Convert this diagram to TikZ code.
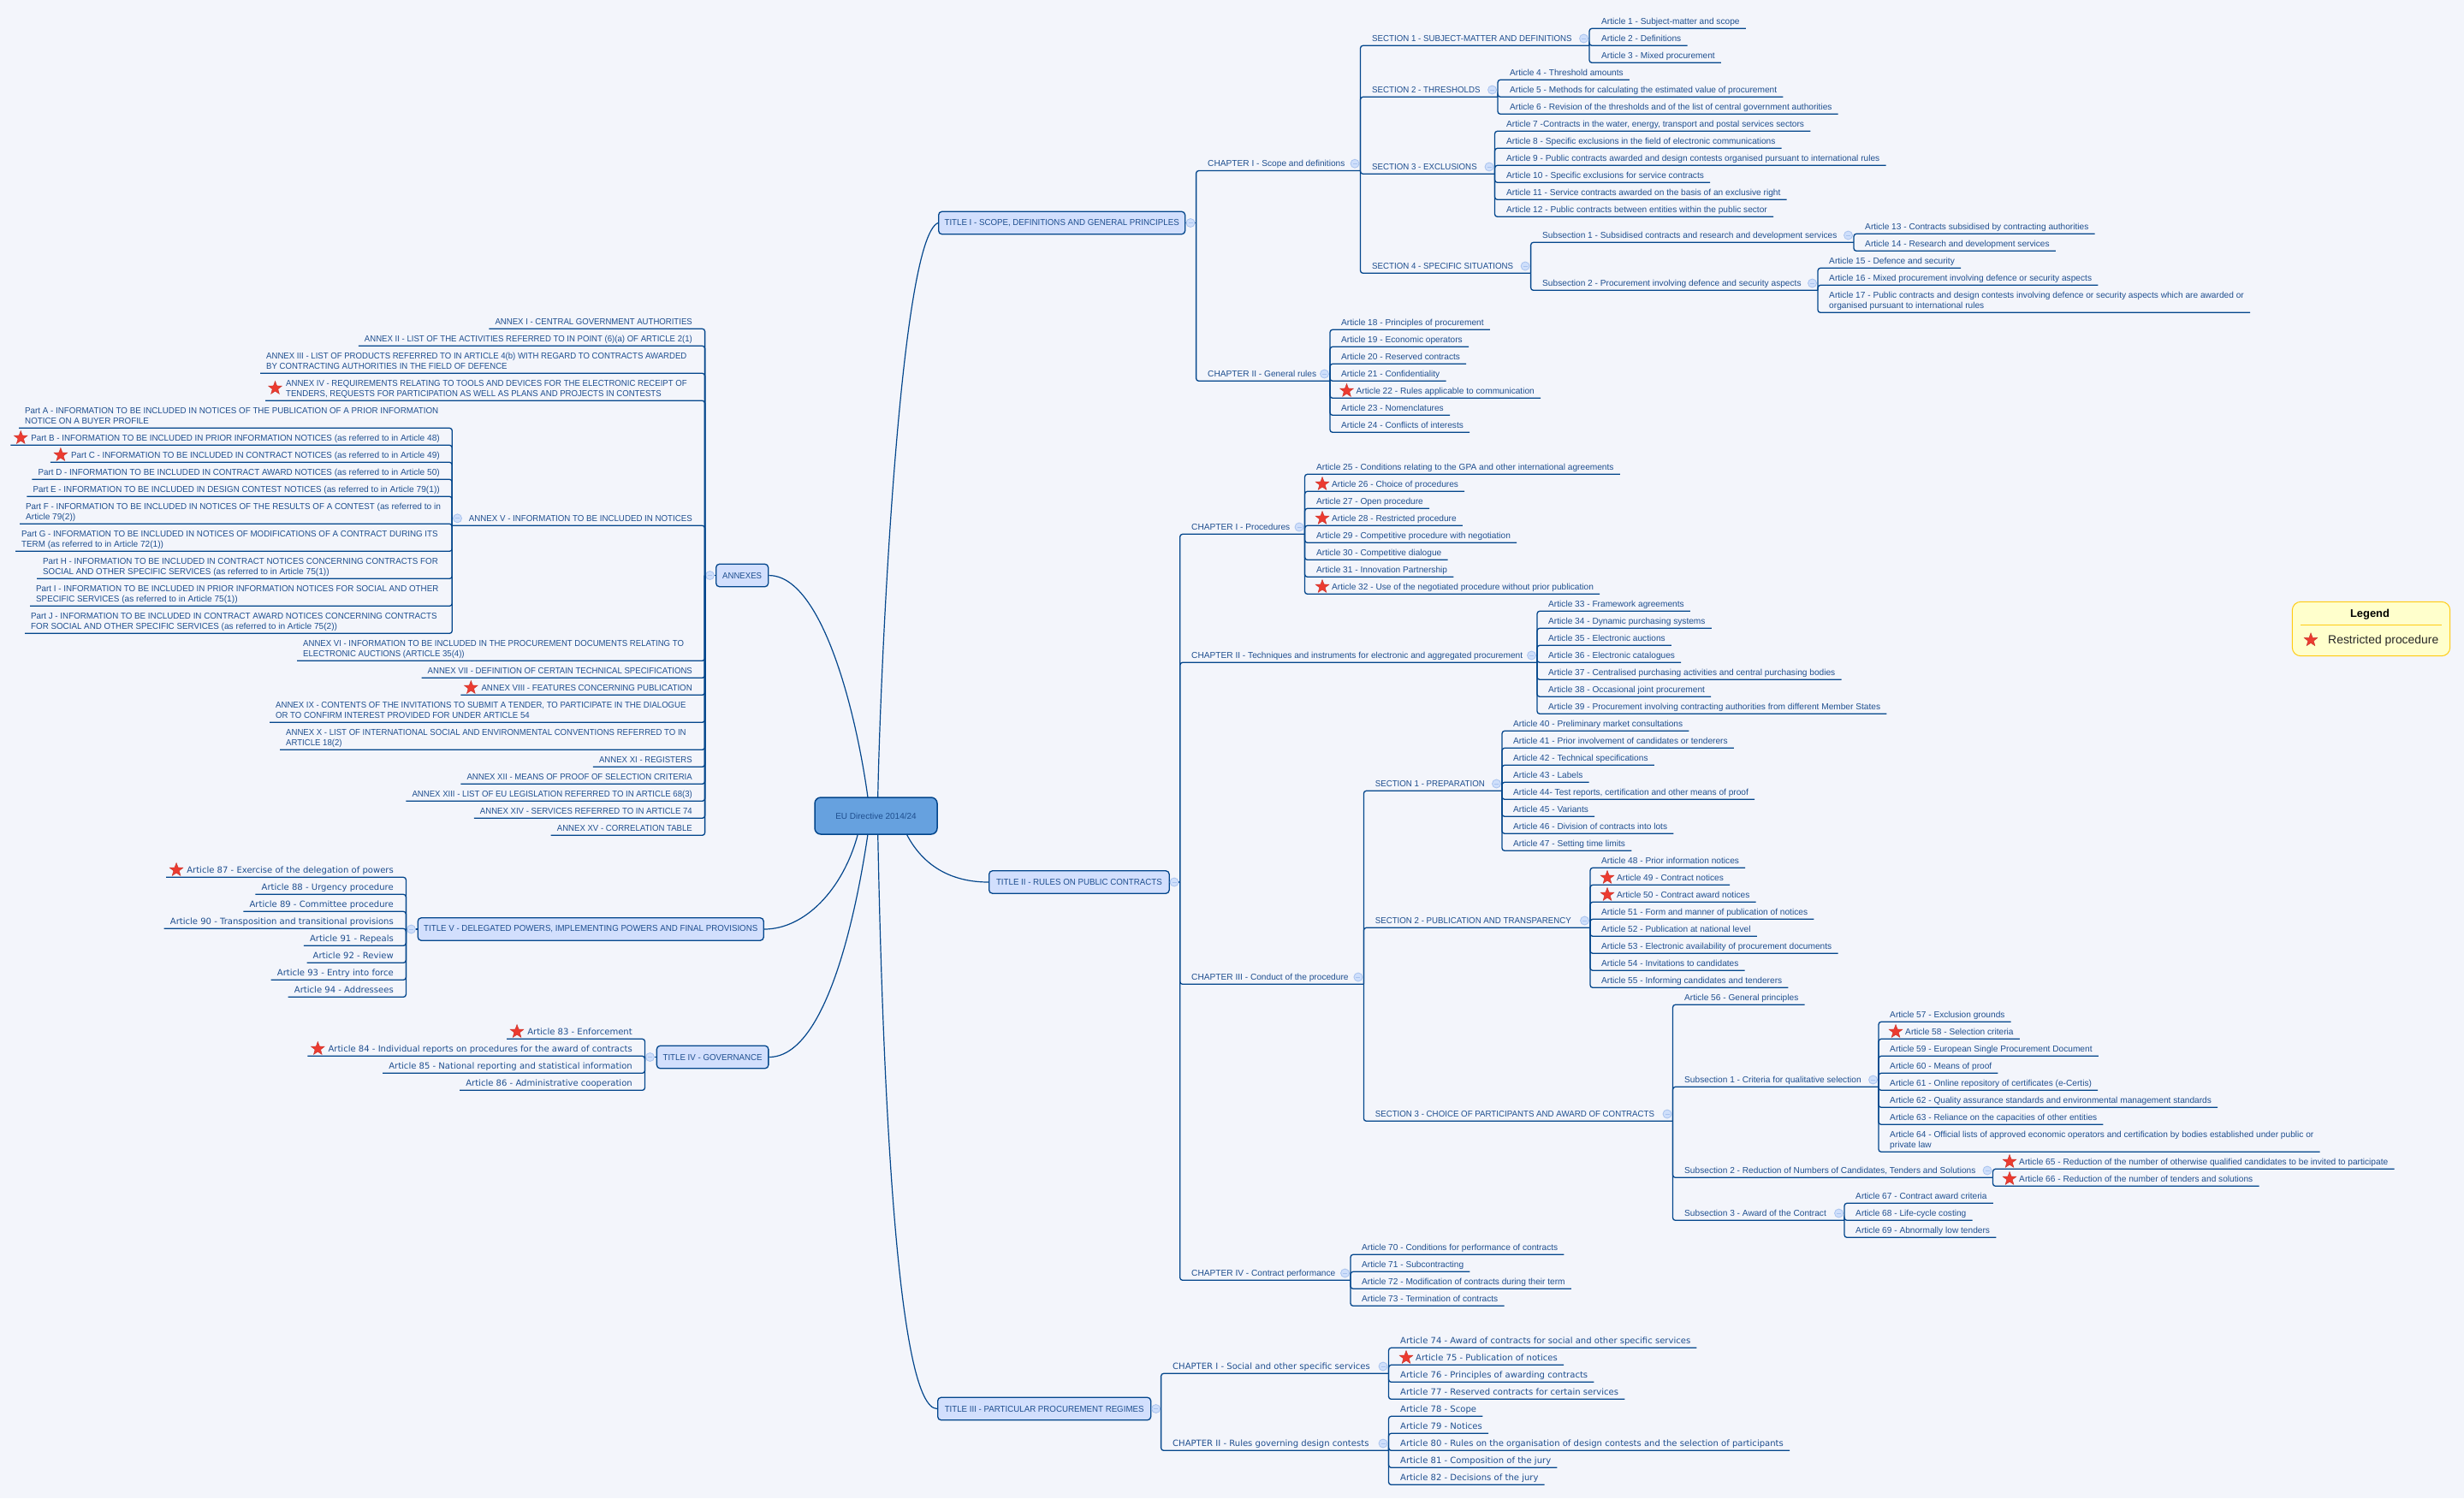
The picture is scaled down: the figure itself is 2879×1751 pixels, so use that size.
\documentclass[tikz,border=0pt]{standalone}
\usepackage{fontspec}
\setmainfont{Liberation Sans}
\newfontfamily\altf{DejaVu Sans}
\newfontfamily\capfam[FakeStretch=0.945]{Liberation Sans}
\newfontfamily\capsec[FakeStretch=0.957]{Liberation Sans}
\newfontfamily\cappart[FakeStretch=0.965]{Liberation Sans}
\usetikzlibrary{shapes.geometric}
\definecolor{bgc}{HTML}{F3F5FB}
\definecolor{linec}{HTML}{03468C}
\definecolor{txtc}{HTML}{1F4F8F}
\definecolor{boxc}{HTML}{D2DFFD}
\definecolor{rootc}{HTML}{66A1DF}
\definecolor{foldf}{HTML}{CFDFFB}
\definecolor{foldd}{HTML}{A9C3EE}
\definecolor{starc}{HTML}{EC3B30}
\definecolor{stard}{HTML}{C8322A}
\definecolor{legd}{HTML}{FFCC14}
\definecolor{legf}{HTML}{FFFFCC}
\newcommand{\C}[1]{{\capfam #1}}
\newcommand{\CS}[1]{{\capsec #1}}
\newcommand{\CP}[1]{{\cappart #1}}
\newcommand{\mainf}{\fontsize{10.15}{12}\selectfont}
\newcommand{\bigf}{\altf\fontsize{10.05}{12}\selectfont}
\tikzset{
 base/.style={inner ysep=0pt,inner xsep=7pt,text depth=5pt,text=txtc,font=\mainf},
 rleafn/.style={base,anchor=south west},
 lleafe/.style={base,anchor=south east},
 lleafw/.style={base,anchor=south west},
 conn/.style={draw=linec,line width=1.3pt,rounded corners=3pt},
 curve/.style={draw=linec,line width=1.2pt},
 foldn/.style={circle,minimum size=10pt,inner sep=0pt,draw=foldd,fill=foldf,line width=.8pt},
 starn/.style={star,star points=5,star point ratio=2.4,minimum size=16.5pt,inner sep=0pt,fill=starc,draw=stard,line width=.4pt},
 titlen/.style={draw=linec,fill=boxc,line width=1.3pt,rounded corners=4pt,minimum height=26.5pt,inner sep=0pt,text=txtc,font=\mainf,anchor=west},
}
\newcommand{\two}[2]{\vbox{\baselineskip=12pt\lineskiplimit=-10pt\hbox{#1}\hbox{#2}}}
\newcommand{\foldm}{\textcolor{foldd}{\rule[-.4pt]{5pt}{.8pt}}}
% right side
\newcommand{\rleaf}[6][]{\node[rleafn,#1] (#2) at (#4-7,#5) {#6}; \draw[conn] (#3) |- (#2.south east);}
\newcommand{\rleafs}[6][]{\rleaf[#1]{#2}{#3}{#4}{#5}{#6}\node[starn] (#2-s) at (#4-11,#5-8.6) {};}
\newcommand{\rpar}[6]{\node[rleafn] (#1) at (#3-7,#4) {#6}; \coordinate (#1-j) at (#5,#4); \draw[conn] (#2) |- (#1-j); \node[foldn] (#1-f) at (#5-6.5,#4-8.3) {\foldm};}
% left side
\newcommand{\lleaf}[6][]{\node[lleafe,#1] (#2) at (#4+7,#5) {#6}; \draw[conn] (#3) |- (#2.south west);}
\newcommand{\lleafs}[6][]{\node[lleafe,#1] (#2) at (#4+7,#5) {\hspace*{17pt}#6}; \draw[conn] (#3) |- (#2.south west); \node[starn] (#2-s) at ([shift={(12,-8.6)}]#2.south west) {};}
\newcommand{\lleafw}[5]{\node[lleafw] (#1) at (#3-7,#4) {#5}; \draw[conn] (#2) |- (#1.south west);}
\begin{document}
\begin{tikzpicture}[x=1pt,y=-1pt]
\path[use as bounding box,fill=bgc] (0,0) rectangle (2879,1751);
% root and main boxes
\node[draw=linec,fill=rootc,line width=1.5pt,rounded corners=7pt,minimum width=143pt,minimum height=43pt,inner sep=0pt,text=txtc,font=\fontsize{10}{12}\selectfont] (root) at (1023.5,953.5) {EU Directive 2014/24};
\node[titlen,minimum width=288pt] (t1) at (1096,260.5) {\CS{TITLE I - SCOPE, DEFINITIONS AND GENERAL PRINCIPLES}};
\node[titlen,minimum width=210.5pt] (t2) at (1155,1031) {\CS{TITLE II - RULES ON PUBLIC CONTRACTS}};
\node[titlen,minimum width=249pt] (t3) at (1095,1646.5) {\CS{TITLE III - PARTICULAR PROCUREMENT REGIMES}};
\node[titlen,minimum width=130.5pt] (t4) at (766.7,1235.5) {\CS{TITLE IV - GOVERNANCE}};
\node[titlen,minimum width=404pt] (t5) at (487.6,1086) {\CS{TITLE V - DELEGATED POWERS, IMPLEMENTING POWERS AND FINAL PROVISIONS}};
\node[titlen,minimum width=61pt] (ann) at (836,672.5) {\C{ANNEXES}};
% curves
\draw[curve] (1025.7,932) .. controls (1028,800) and (1050,280) .. (t1.west);
\draw[curve] (1014,932) .. controls (1000,830) and (960,672.5) .. (ann.east);
\draw[curve] (1002.3,975) .. controls (985,1040) and (940,1086) .. (t5.east);
\draw[curve] (1014,975) .. controls (1000,1070) and (965,1235.5) .. (t4.east);
\draw[curve] (1059.3,975) .. controls (1080,1015) and (1115,1031) .. (t2.west);
\draw[curve] (1025.7,975) .. controls (1032,1300) and (1050,1646.5) .. (t3.west);
% junctions of the titles
\coordinate (t1-j) at (1397.6,260.5); \draw[conn] (t1.east) -- (t1-j); \node[foldn] (t1-f) at (1391,260.5) {\foldm};
\coordinate (t2-j) at (1378.7,1031); \draw[conn] (t2.east) -- (t2-j); \node[foldn] (t2-f) at (1372,1031) {\foldm};
\coordinate (t3-j) at (1356.6,1646.5); \draw[conn] (t3.east) -- (t3-j); \node[foldn] (t3-f) at (1350.6,1646.5) {\foldm};
\coordinate (t4-j) at (753.5,1235.5); \draw[conn] (t4.west) -- (t4-j); \node[foldn] (t4-f) at (759.5,1235.5) {\foldm};
\coordinate (t5-j) at (474.4,1086); \draw[conn] (t5.west) -- (t5-j); \node[foldn] (t5-f) at (480.5,1086) {\foldm};
\coordinate (ann-j) at (823.6,672.5); \draw[conn] (ann.west) -- (ann-j); \node[foldn] (ann-f) at (829.5,672.5) {\foldm};
% ---------- TITLE I
\rpar{c11}{t1-j}{1411}{199.5}{1589.5}{CHAPTER I - Scope and definitions}
\rpar{s1}{c11-j}{1603}{53.3}{1857}{\CS{SECTION 1 - SUBJECT-MATTER AND DEFINITIONS}}
\rleaf{a1}{s1-j}{1871}{33.3}{Article 1 - Subject-matter and scope}
\rleaf{a2}{s1-j}{1871}{53.3}{Article 2 - Definitions}
\rleaf{a3}{s1-j}{1871}{73.3}{Article 3 - Mixed procurement}
\rpar{s2}{c11-j}{1603}{113.3}{1750}{\CS{SECTION 2 - THRESHOLDS}}
\rleaf{a4}{s2-j}{1764}{93.3}{Article 4 - Threshold amounts}
\rleaf{a5}{s2-j}{1764}{113.3}{Article 5 - Methods for calculating the estimated value of procurement}
\rleaf{a6}{s2-j}{1764}{133.3}{Article 6 - Revision of the thresholds and of the list of central government authorities}
\rpar{s3}{c11-j}{1603}{203.3}{1746.5}{\CS{SECTION 3 - EXCLUSIONS}}
\rleaf{a7}{s3-j}{1760}{153.3}{Article 7 -Contracts in the water, energy, transport and postal services sectors}
\rleaf{a8}{s3-j}{1760}{173.3}{Article 8 - Specific exclusions in the field of electronic communications}
\rleaf{a9}{s3-j}{1760}{193.3}{Article 9 - Public contracts awarded and design contests organised pursuant to international rules}
\rleaf{a10}{s3-j}{1760}{213.3}{Article 10 - Specific exclusions for service contracts}
\rleaf{a11}{s3-j}{1760}{233.3}{Article 11 - Service contracts awarded on the basis of an exclusive right}
\rleaf{a12}{s3-j}{1760}{253.3}{Article 12 - Public contracts between entities within the public sector}
\rpar{s4}{c11-j}{1603}{319.3}{1788.6}{\CS{SECTION 4 - SPECIFIC SITUATIONS}}
\rpar{ss1}{s4-j}{1802}{283.3}{2166}{Subsection 1 - Subsidised contracts and research and development services}
\rleaf{a13}{ss1-j}{2179}{273.3}{Article 13 - Contracts subsidised by contracting authorities}
\rleaf{a14}{ss1-j}{2179}{293.3}{Article 14 - Research and development services}
\rpar{ss2}{s4-j}{1802}{339.3}{2124}{Subsection 2 - Procurement involving defence and security aspects}
\rleaf{a15}{ss2-j}{2137}{313.3}{Article 15 - Defence and security}
\rleaf{a16}{ss2-j}{2137}{333.3}{Article 16 - Mixed procurement involving defence or security aspects}
\rleaf{a17}{ss2-j}{2137}{365.3}{\two{Article 17 - Public contracts and design contests involving defence or security aspects which are awarded or}{organised pursuant to international rules}}
\rpar{c12}{t1-j}{1411}{445.3}{1554}{CHAPTER II - General rules}
\rleaf{a18}{c12-j}{1567}{385.3}{Article 18 - Principles of procurement}
\rleaf{a19}{c12-j}{1567}{405.3}{Article 19 - Economic operators}
\rleaf{a20}{c12-j}{1567}{425.3}{Article 20 - Reserved contracts}
\rleaf{a21}{c12-j}{1567}{445.3}{Article 21 - Confidentiality}
\rleafs{a22}{c12-j}{1584.5}{465.3}{Article 22 - Rules applicable to communication}
\rleaf{a23}{c12-j}{1567}{485.3}{Article 23 - Nomenclatures}
\rleaf{a24}{c12-j}{1567}{505.3}{Article 24 - Conflicts of interests}
% ---------- TITLE II
\rpar{c21}{t2-j}{1392}{624.3}{1524.5}{CHAPTER I - Procedures}
\rleaf{a25}{c21-j}{1538}{554.3}{Article 25 - Conditions relating to the GPA and other international agreements}
\rleafs{a26}{c21-j}{1556}{574.3}{Article 26 - Choice of procedures}
\rleaf{a27}{c21-j}{1538}{594.3}{Article 27 - Open procedure}
\rleafs{a28}{c21-j}{1556}{614.3}{Article 28 - Restricted procedure}
\rleaf{a29}{c21-j}{1538}{634.3}{Article 29 - Competitive procedure with negotiation}
\rleaf{a30}{c21-j}{1538}{654.3}{Article 30 - Competitive dialogue}
\rleaf{a31}{c21-j}{1538}{674.3}{Article 31 - Innovation Partnership}
\rleafs{a32}{c21-j}{1556}{694.3}{Article 32 - Use of the negotiated procedure without prior publication}
\rpar{c22}{t2-j}{1392}{774.3}{1796}{CHAPTER II - Techniques and instruments for electronic and aggregated procurement}
\rleaf{a33}{c22-j}{1809}{714.3}{Article 33 - Framework agreements}
\rleaf{a34}{c22-j}{1809}{734.3}{Article 34 - Dynamic purchasing systems}
\rleaf{a35}{c22-j}{1809}{754.3}{Article 35 - Electronic auctions}
\rleaf{a36}{c22-j}{1809}{774.3}{Article 36 - Electronic catalogues}
\rleaf{a37}{c22-j}{1809}{794.3}{Article 37 - Centralised purchasing activities and central purchasing bodies}
\rleaf{a38}{c22-j}{1809}{814.3}{Article 38 - Occasional joint procurement}
\rleaf{a39}{c22-j}{1809}{834.3}{Article 39 - Procurement involving contracting authorities from different Member States}
\rpar{c23}{t2-j}{1392}{1150.3}{1593.4}{CHAPTER III - Conduct of the procedure}
\rpar{s31}{c23-j}{1606.6}{924.3}{1755}{\CS{SECTION 1 - PREPARATION}}
\rleaf{a40}{s31-j}{1768}{854.3}{Article 40 - Preliminary market consultations}
\rleaf{a41}{s31-j}{1768}{874.3}{Article 41 - Prior involvement of candidates or tenderers}
\rleaf{a42}{s31-j}{1768}{894.3}{Article 42 - Technical specifications}
\rleaf{a43}{s31-j}{1768}{914.3}{Article 43 - Labels}
\rleaf{a44}{s31-j}{1768}{934.3}{Article 44- Test reports, certification and other means of proof}
\rleaf{a45}{s31-j}{1768}{954.3}{Article 45 - Variants}
\rleaf{a46}{s31-j}{1768}{974.3}{Article 46 - Division of contracts into lots}
\rleaf{a47}{s31-j}{1768}{994.3}{Article 47 - Setting time limits}
\rpar{s32}{c23-j}{1606.6}{1084.3}{1858}{\CS{SECTION 2 - PUBLICATION AND TRANSPARENCY}}
\rleaf{a48}{s32-j}{1871}{1014.3}{Article 48 - Prior information notices}
\rleafs{a49}{s32-j}{1889}{1034.3}{Article 49 - Contract notices}
\rleafs{a50}{s32-j}{1889}{1054.3}{Article 50 - Contract award notices}
\rleaf{a51}{s32-j}{1871}{1074.3}{Article 51 - Form and manner of publication of notices}
\rleaf{a52}{s32-j}{1871}{1094.3}{Article 52 - Publication at national level}
\rleaf{a53}{s32-j}{1871}{1114.3}{Article 53 - Electronic availability of procurement documents}
\rleaf{a54}{s32-j}{1871}{1134.3}{Article 54 - Invitations to candidates}
\rleaf{a55}{s32-j}{1871}{1154.3}{Article 55 - Informing candidates and tenderers}
\rpar{s33}{c23-j}{1606.6}{1310.3}{1954.5}{\CS{SECTION 3 - CHOICE OF PARTICIPANTS AND AWARD OF CONTRACTS}}
\rleaf{a56}{s33-j}{1968}{1174.3}{Article 56 - General principles}
\rpar{q1}{s33-j}{1968}{1270.3}{2195}{Subsection 1 - Criteria for qualitative selection}
\rleaf{a57}{q1-j}{2208}{1194.3}{Article 57 - Exclusion grounds}
\rleafs{a58}{q1-j}{2226}{1214.3}{Article 58 - Selection criteria}
\rleaf{a59}{q1-j}{2208}{1234.3}{Article 59 - European Single Procurement Document}
\rleaf{a60}{q1-j}{2208}{1254.3}{Article 60 - Means of proof}
\rleaf{a61}{q1-j}{2208}{1274.3}{Article 61 - Online repository of certificates (e-Certis)}
\rleaf{a62}{q1-j}{2208}{1294.3}{Article 62 - Quality assurance standards and environmental management standards}
\rleaf{a63}{q1-j}{2208}{1314.3}{Article 63 - Reliance on the capacities of other entities}
\rleaf{a64}{q1-j}{2208}{1346.3}{\two{Article 64 - Official lists of approved economic operators and certification by bodies established under public or}{private law}}
\rpar{q2}{s33-j}{1968}{1376.3}{2328.5}{Subsection 2 - Reduction of Numbers of Candidates, Tenders and Solutions}
\rleafs{a65}{q2-j}{2359}{1366.3}{Article 65 - Reduction of the number of otherwise qualified candidates to be invited to participate}
\rleafs{a66}{q2-j}{2359}{1386.3}{Article 66 - Reduction of the number of tenders and solutions}
\rpar{q3}{s33-j}{1968}{1426.3}{2155}{Subsection 3 - Award of the Contract}
\rleaf{a67}{q3-j}{2168}{1406.3}{Article 67 - Contract award criteria}
\rleaf{a68}{q3-j}{2168}{1426.3}{Article 68 - Life-cycle costing}
\rleaf{a69}{q3-j}{2168}{1446.3}{Article 69 - Abnormally low tenders}
\rpar{c24}{t2-j}{1392}{1496.3}{1578}{CHAPTER IV - Contract performance}
\rleaf{a70}{c24-j}{1591}{1466.3}{Article 70 - Conditions for performance of contracts}
\rleaf{a71}{c24-j}{1591}{1486.3}{Article 71 - Subcontracting}
\rleaf{a72}{c24-j}{1591}{1506.3}{Article 72 - Modification of contracts during their term}
\rleaf{a73}{c24-j}{1591}{1526.3}{Article 73 - Termination of contracts}
% ---------- TITLE III
\rpar{c31}{t3-j}{1370}{1605.3}{1622.5}{\bigf CHAPTER I - Social and other specific services}
\rleaf[font=\bigf]{a74}{c31-j}{1636}{1575.3}{Article 74 - Award of contracts for social and other specific services}
\rleafs[font=\bigf]{a75}{c31-j}{1654}{1595.3}{Article 75 - Publication of notices}
\rleaf[font=\bigf]{a76}{c31-j}{1636}{1615.3}{Article 76 - Principles of awarding contracts}
\rleaf[font=\bigf]{a77}{c31-j}{1636}{1635.3}{Article 77 - Reserved contracts for certain services}
\rpar{c32}{t3-j}{1370}{1695.3}{1622.5}{\bigf CHAPTER II - Rules governing design contests}
\rleaf[font=\bigf]{a78}{c32-j}{1636}{1655.3}{Article 78 - Scope}
\rleaf[font=\bigf]{a79}{c32-j}{1636}{1675.3}{Article 79 - Notices}
\rleaf[font=\bigf]{a80}{c32-j}{1636}{1695.3}{Article 80 - Rules on the organisation of design contests and the selection of participants}
\rleaf[font=\bigf]{a81}{c32-j}{1636}{1715.3}{Article 81 - Composition of the jury}
\rleaf[font=\bigf]{a82}{c32-j}{1636}{1735.3}{Article 82 - Decisions of the jury}
% ---------- TITLE IV
\lleafs[font=\bigf]{a83}{t4-j}{739}{1214.3}{Article 83 - Enforcement}
\lleafs[font=\bigf]{a84}{t4-j}{739}{1234.3}{Article 84 - Individual reports on procedures for the award of contracts}
\lleaf[font=\bigf]{a85}{t4-j}{739}{1254.3}{Article 85 - National reporting and statistical information}
\lleaf[font=\bigf]{a86}{t4-j}{739}{1274.3}{Article 86 - Administrative cooperation}
% ---------- TITLE V
\lleafs[font=\bigf]{a87}{t5-j}{460}{1025.3}{Article 87 - Exercise of the delegation of powers}
\lleaf[font=\bigf]{a88}{t5-j}{460}{1045.3}{Article 88 - Urgency procedure}
\lleaf[font=\bigf]{a89}{t5-j}{460}{1065.3}{Article 89 - Committee procedure}
\lleaf[font=\bigf]{a90}{t5-j}{460}{1085.3}{Article 90 - Transposition and transitional provisions}
\lleaf[font=\bigf]{a91}{t5-j}{460}{1105.3}{Article 91 - Repeals}
\lleaf[font=\bigf]{a92}{t5-j}{460}{1125.3}{Article 92 - Review}
\lleaf[font=\bigf]{a93}{t5-j}{460}{1145.3}{Article 93 - Entry into force}
\lleaf[font=\bigf]{a94}{t5-j}{460}{1165.3}{Article 94 - Addressees}
% ---------- ANNEXES
\lleaf{x1}{ann-j}{809}{384.3}{\C{ANNEX I - CENTRAL GOVERNMENT AUTHORITIES}}
\lleaf{x2}{ann-j}{809}{404.3}{\C{ANNEX II - LIST OF THE ACTIVITIES REFERRED TO IN POINT (6)(a) OF ARTICLE 2(1)}}
\lleafw{x3}{ann-j}{311}{436.3}{\two{\C{ANNEX III - LIST OF PRODUCTS REFERRED TO IN ARTICLE 4(b) WITH REGARD TO CONTRACTS AWARDED}}{\C{BY CONTRACTING AUTHORITIES IN THE FIELD OF DEFENCE}}}
\lleafw{x4}{ann-j}{317}{468.3}{\hspace*{17pt}\two{\C{ANNEX IV - REQUIREMENTS RELATING TO TOOLS AND DEVICES FOR THE ELECTRONIC RECEIPT OF}}{\C{TENDERS, REQUESTS FOR PARTICIPATION AS WELL AS PLANS AND PROJECTS IN CONTESTS}}}
\node[starn] (x4-s) at ([shift={(11.5,-14.6)}]x4.south west) {};
\node[lleafe] (x5) at (816,614.3) {\CS{ANNEX V - INFORMATION TO BE INCLUDED IN NOTICES}};
\coordinate (x5-j) at (528.3,614.3); \draw[conn] (ann-j) |- (x5-j);
\node[foldn] (x5-f) at (534.5,605.8) {\foldm};
\lleafw{pa}{x5-j}{29}{500.3}{\two{\CP{Part A - INFORMATION TO BE INCLUDED IN NOTICES OF THE PUBLICATION OF A PRIOR INFORMATION}}{\CP{NOTICE ON A BUYER PROFILE}}}
\lleafs{pb}{x5-j}{514}{520.3}{\CP{Part B - INFORMATION TO BE INCLUDED IN PRIOR INFORMATION NOTICES} (as referred to in Article 48)}
\lleafs{pc}{x5-j}{514}{540.3}{\CP{Part C - INFORMATION TO BE INCLUDED IN CONTRACT NOTICES} (as referred to in Article 49)}
\lleaf{pd}{x5-j}{514}{560.3}{\CP{Part D - INFORMATION TO BE INCLUDED IN CONTRACT AWARD NOTICES} (as referred to in Article 50)}
\lleaf{pe}{x5-j}{514}{580.3}{\CP{Part E - INFORMATION TO BE INCLUDED IN DESIGN CONTEST NOTICES} (as referred to in Article 79(1))}
\lleafw{pf}{x5-j}{30}{612.3}{\two{\CP{Part F - INFORMATION TO BE INCLUDED IN NOTICES OF THE RESULTS OF A CONTEST} (as referred to in}{Article 79(2))}}
\lleafw{pg}{x5-j}{25}{644.3}{\two{\CP{Part G - INFORMATION TO BE INCLUDED IN NOTICES OF MODIFICATIONS OF A CONTRACT DURING ITS}}{\CP{TERM} (as referred to in Article 72(1))}}
\lleafw{ph}{x5-j}{50}{676.3}{\two{\CP{Part H - INFORMATION TO BE INCLUDED IN CONTRACT NOTICES CONCERNING CONTRACTS FOR}}{\CP{SOCIAL AND OTHER SPECIFIC SERVICES} (as referred to in Article 75(1))}}
\lleafw{pi}{x5-j}{42}{708.3}{\two{\CP{Part I - INFORMATION TO BE INCLUDED IN PRIOR INFORMATION NOTICES FOR SOCIAL AND OTHER}}{\CP{SPECIFIC SERVICES} (as referred to in Article 75(1))}}
\lleafw{pj}{x5-j}{36}{740.3}{\two{\CP{Part J - INFORMATION TO BE INCLUDED IN CONTRACT AWARD NOTICES CONCERNING CONTRACTS}}{\CP{FOR SOCIAL AND OTHER SPECIFIC SERVICES} (as referred to in Article 75(2))}}
\lleafw{x6}{ann-j}{354}{772.3}{\two{\C{ANNEX VI - INFORMATION TO BE INCLUDED IN THE PROCUREMENT DOCUMENTS RELATING TO}}{\C{ELECTRONIC AUCTIONS (ARTICLE 35(4))}}}
\lleaf{x7}{ann-j}{809}{792.3}{\C{ANNEX VII - DEFINITION OF CERTAIN TECHNICAL SPECIFICATIONS}}
\lleafs{x8}{ann-j}{809}{812.3}{\CS{ANNEX VIII - FEATURES CONCERNING PUBLICATION}}
\lleafw{x9}{ann-j}{322}{844.3}{\two{\C{ANNEX IX - CONTENTS OF THE INVITATIONS TO SUBMIT A TENDER, TO PARTICIPATE IN THE DIALOGUE}}{\C{OR TO CONFIRM INTEREST PROVIDED FOR UNDER ARTICLE 54}}}
\lleafw{x10}{ann-j}{334}{876.3}{\two{\C{ANNEX X - LIST OF INTERNATIONAL SOCIAL AND ENVIRONMENTAL CONVENTIONS REFERRED TO IN}}{\C{ARTICLE 18(2)}}}
\lleaf{x11}{ann-j}{809}{896.3}{\C{ANNEX XI - REGISTERS}}
\lleaf{x12}{ann-j}{809}{916.3}{\C{ANNEX XII - MEANS OF PROOF OF SELECTION CRITERIA}}
\lleaf{x13}{ann-j}{809}{936.3}{\C{ANNEX XIII - LIST OF EU LEGISLATION REFERRED TO IN ARTICLE 68(3)}}
\lleaf{x14}{ann-j}{809}{956.3}{\C{ANNEX XIV - SERVICES REFERRED TO IN ARTICLE 74}}
\lleaf{x15}{ann-j}{809}{976.3}{\C{ANNEX XV - CORRELATION TABLE}}
% ---------- LEGEND
\draw[draw=legd,fill=legf,line width=1pt,rounded corners=10pt] (2678.3,703.3) rectangle (2862.7,766.7);
\node[font=\fontsize{12.9}{14}\selectfont\bfseries,text=black,inner sep=0pt] (leg) at (2769,718) {Legend};
\coordinate (legl) at (2688,730.3); \coordinate (legr) at (2852.7,730.3);
\draw[draw=legd,line width=.9pt] (legl) -- (legr);
\node[starn] (legs) at (2700,748) {};
\node[font=\fontsize{13.9}{15}\selectfont,text=black!85,inner sep=0pt,anchor=west] (legt) at (2720,748.5) {Restricted procedure};
\end{tikzpicture}
\end{document}
